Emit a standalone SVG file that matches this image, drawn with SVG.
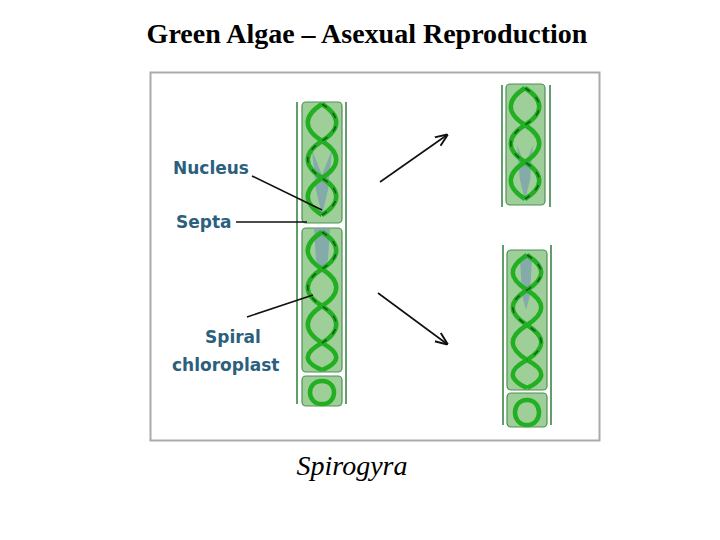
<svg xmlns="http://www.w3.org/2000/svg" width="720" height="540" viewBox="0 0 720 540">
<style>
.wall{stroke:#2e7d3a;stroke-width:1.5;fill:none}
.cell{fill:#9fcf98;stroke:#4f8f55;stroke-width:1.2}
.sp{fill:none;stroke:#22b022;stroke-width:4.5}
.sp2{fill:none;stroke:#0d5a14;stroke-width:1.5;stroke-dasharray:6 8}
.lbl{font-family:"DejaVu Sans",sans-serif;font-weight:bold;font-size:17px;fill:#2c5f7e}
.ld{stroke:#111;stroke-width:1.6}
.nuc{fill:#7fa3ad;opacity:0.85}
</style>
<defs><marker id="ah" viewBox="0 0 10 10" refX="9" refY="5" markerWidth="8" markerHeight="8" orient="auto"><path d="M0,1 L10,5 L0,9" fill="none" stroke="#111" stroke-width="1.5"/></marker></defs>
<rect width="720" height="540" fill="#fff"/>
<text x="367" y="43" text-anchor="middle" font-family="Liberation Serif,serif" font-weight="bold" font-size="28">Green Algae – Asexual Reproduction</text>
<rect x="150.5" y="72.5" width="449" height="368" fill="#fff" stroke="#aaa" stroke-width="2"/>
<g id="filament-left">
<line class="wall" x1="297" y1="102" x2="297" y2="404"/><line class="wall" x1="346" y1="102" x2="346" y2="404"/>
<rect class="cell" x="302" y="102" width="40" height="121" rx="4"/>
<rect class="cell" x="302" y="228" width="40" height="144" rx="4"/>
<rect class="cell" x="302" y="376" width="40" height="30" rx="4"/>
<path class="nuc" d="M312,150 L322,175 L332,150 L328,190 L322,215 L316,190Z"/>
<path class="nuc" d="M314,228 L330,228 L328,260 L322,270 L316,260Z"/>
<path class="sp" d="M322,104 C341,116 341,129 322,141 C303,153 303,166 322,178 C341,190 341,203 322,215"/>
<path class="sp" d="M322,104 C303,116 303,129 322,141 C341,153 341,166 322,178 C303,190 303,203 322,215"/>
<path class="sp" d="M322,232 C341,244 341,257 322,269 C303,281 303,294 322,306 C341,318 341,331 322,343 C303,353 303,362 322,370"/>
<path class="sp" d="M322,232 C303,244 303,257 322,269 C341,281 341,294 322,306 C303,318 303,331 322,343 C341,353 341,362 322,370"/>
<path class="sp" d="M322,404 C306,404 306,381 322,381 C338,381 338,404 322,404"/>
<path class="sp2" d="M322,104 C341,116 341,129 322,141 C303,153 303,166 322,178 C341,190 341,203 322,215 M322,232 C341,244 341,257 322,269 C303,281 303,294 322,306 C341,318 341,331 322,343"/>
</g>
<g id="filament-top-right">
<line class="wall" x1="502" y1="85" x2="502" y2="207"/><line class="wall" x1="550" y1="85" x2="550" y2="207"/>
<rect class="cell" x="506" y="84" width="39" height="121" rx="4"/>
<path class="nuc" d="M517,145 L525,165 L533,145 L530,180 L525,200 L520,180Z"/>
<path class="sp" d="M525,88 C544,100 544,113 525,125 C506,137 506,150 525,162 C544,174 544,187 525,199"/>
<path class="sp" d="M525,88 C506,100 506,113 525,125 C544,137 544,150 525,162 C506,174 506,187 525,199"/>
<path class="sp2" d="M525,88 C544,100 544,113 525,125 C506,137 506,150 525,162 C544,174 544,187 525,199"/>
</g>
<g id="filament-bottom-right">
<line class="wall" x1="503" y1="245" x2="503" y2="425"/><line class="wall" x1="551" y1="245" x2="551" y2="425"/>
<rect class="cell" x="507" y="250" width="40" height="140" rx="4"/>
<rect class="cell" x="507" y="393" width="40" height="34" rx="4"/>
<path class="nuc" d="M520,258 L532,258 L530,295 L526,310 L522,295Z"/>
<path class="sp" d="M527,255 C546,267 546,278 527,290 C508,302 508,313 527,325 C546,337 546,348 527,360 C508,370 508,379 527,388"/>
<path class="sp" d="M527,255 C508,267 508,278 527,290 C546,302 546,313 527,325 C508,337 508,348 527,360 C546,370 546,379 527,388"/>
<path class="sp" d="M527,425 C511,425 511,400 527,400 C543,400 543,425 527,425"/>
<path class="sp2" d="M527,255 C546,267 546,278 527,290 C508,302 508,313 527,325 C546,337 546,348 527,360"/>
</g>
<g id="connectors">
<line class="ld" x1="380" y1="182" x2="447" y2="135" marker-end="url(#ah)"/>
<line class="ld" x1="378" y1="293" x2="447" y2="344" marker-end="url(#ah)"/>
<line class="ld" x1="252" y1="176" x2="322" y2="210"/>
<line class="ld" x1="236" y1="222" x2="307" y2="222"/>
<line class="ld" x1="247" y1="317" x2="313" y2="295"/>
</g>
<g id="labels">
<text class="lbl" x="173" y="174">Nucleus</text>
<text class="lbl" x="176" y="228">Septa</text>
<text class="lbl" x="205" y="343">Spiral</text>
<text class="lbl" x="172" y="371">chloroplast</text>
</g>
<text x="352" y="475" text-anchor="middle" font-family="Liberation Serif,serif" font-style="italic" font-size="28">Spirogyra</text>
</svg>
